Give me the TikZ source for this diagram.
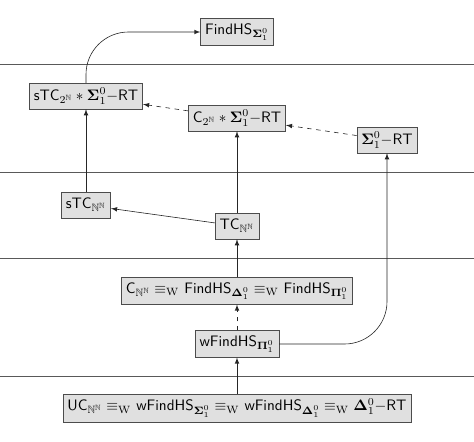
\documentclass[tikz,border=0pt]{standalone}
\usepackage{amsmath,amssymb}
\usepackage{tikz}
\usetikzlibrary{arrows, positioning}

\tikzset{
  prob/.style={draw=black!70, fill=black!12, font=\sffamily, inner sep=3pt, minimum height=0.6cm},
  arr/.style={-latex, draw=black!85},
  darr/.style={arr, dashed},
  divider/.style={draw=black!65}
}
\newcommand{\Sig}{\mathbf{\Sigma}^0_1}
\newcommand{\Pii}{\mathbf{\Pi}^0_1}
\newcommand{\Del}{\mathbf{\Delta}^0_1}
\newcommand{\eqW}{\equiv_{\mathrm{W}}}

\begin{document}
\begin{tikzpicture}[x=0.0232cm, y=-0.0232cm]
  \useasboundingbox (0,0) rectangle (474,442);
  \foreach \y in {64,172,258,376}
    \draw[divider] (0,\y) -- (474,\y);

  \node[prob] (fhs)  at (237,32)  {FindHS$_{\Sig}$};
  \node[prob] (stcs) at (86,96)   {sTC$_{2^{\mathbb{N}}}*\Sig{-}$RT};
  \node[prob] (ctwo) at (237,118) {C$_{2^{\mathbb{N}}}*\Sig{-}$RT};
  \node[prob] (srt)  at (387,140) {$\Sig{-}$RT};
  \node[prob] (stcn) at (86,205)  {sTC$_{\mathbb{N}^{\mathbb{N}}}$};
  \node[prob] (tcn)  at (237,226) {TC$_{\mathbb{N}^{\mathbb{N}}}$};
  \node[prob] (cnn)  at (237,291) {C$_{\mathbb{N}^{\mathbb{N}}}\eqW$ FindHS$_{\Del}\eqW$ FindHS$_{\Pii}$};
  \node[prob] (wfhs) at (237,344) {wFindHS$_{\Pii}$};
  \node[prob] (ucn)  at (237,408) {UC$_{\mathbb{N}^{\mathbb{N}}}\eqW$ wFindHS$_{\Sig}\eqW$ wFindHS$_{\Del}\eqW\Del{-}$RT};

  \draw[arr, rounded corners=28] (stcs.north) |- (fhs.west);
  \draw[arr] (stcn) -- (stcs);
  \draw[darr] (ctwo) -- (stcs);
  \draw[darr] (srt) -- (ctwo);
  \draw[arr] (tcn) -- (ctwo);
  \draw[arr] (tcn) -- (stcn);
  \draw[arr] (cnn) -- (tcn);
  \draw[darr] (wfhs) -- (cnn);
  \draw[arr] (ucn) -- (wfhs);
  \draw[arr, rounded corners=28] (wfhs.east) -| (srt.south);
\end{tikzpicture}
\end{document}
